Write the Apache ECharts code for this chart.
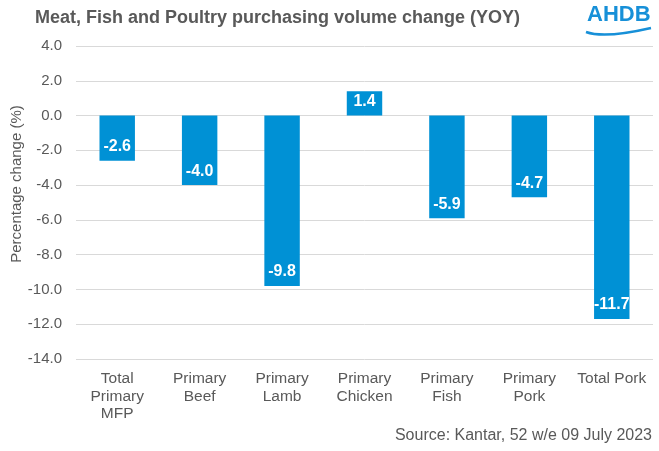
<!DOCTYPE html>
<html>
<head>
<meta charset="utf-8">
<script src="https://cdn.jsdelivr.net/npm/echarts@6/dist/echarts.min.js"></script>
<style>
  html, body { margin: 0; padding: 0; background: #fff; }
  #chart { width: 659px; height: 451px; }
</style>
</head>
<body>
<div id="chart"></div>
<script>
// data
const categories = ['Total\nPrimary\nMFP', 'Primary\nBeef', 'Primary\nLamb', 'Primary\nChicken', 'Primary\nFish', 'Primary\nPork', 'Total Pork'];
const changes = [-2.6, -4.0, -9.8, 1.4, -5.9, -4.7, -11.7];

const textGrey = '#595959';
const barBlue = '#0091D5';

var myChart = echarts.init(document.getElementById('chart'));

myChart.setOption({
    animation: false,
    title: {
        text: 'Meat, Fish and Poultry purchasing volume change (YOY)',
        left: 30,
        top: 4,
        textStyle: {
            fontFamily: 'Arial, Liberation Sans',
            fontSize: 18,
            fontWeight: 'bold',
            color: textGrey
        }
    },
    grid: {
        left: 76,
        right: 6,
        top: 46,
        bottom: 92,
        outerBoundsMode: 'none'
    },
    xAxis: {
        type: 'category',
        data: categories,
        axisLine: { show: false },
        axisTick: { show: false },
        axisLabel: {
            interval: 0,
            margin: 11,
            fontFamily: 'Arial, Liberation Sans',
            fontSize: 15.5,
            lineHeight: 17.5,
            color: textGrey
        }
    },
    yAxis: {
        type: 'value',
        min: -14,
        max: 4,
        interval: 2,
        axisLabel: {
            margin: 14,
            fontFamily: 'Arial, Liberation Sans',
            fontSize: 15,
            color: textGrey,
            formatter: v => v.toFixed(1)
        },
        splitLine: { lineStyle: { color: '#D9D9D9', width: 1 } }
    },
    series: [
        {
            type: 'bar',
            barWidth: '43%',
            data: changes.map(v => ({
                value: v,
                label: v < 0 ? { position: 'insideBottom', distance: 6 } : { position: 'insideTop', distance: 2 }
            })),
            itemStyle: { color: barBlue },
            label: {
                show: true,
                color: '#fff',
                fontFamily: 'Arial, Liberation Sans',
                fontSize: 16,
                fontWeight: 'bold',
                formatter: p => p.value.toFixed(1)
            }
        }
    ],
    graphic: [
        // y axis title
        {
            type: 'text',
            x: 17,
            y: 184,
            rotation: Math.PI / 2,
            style: {
                text: 'Percentage change (%)',
                font: '15px Arial, Liberation Sans',
                fill: textGrey,
                align: 'center',
                verticalAlign: 'middle'
            }
        },
        {
            type: 'text',
            right: 7,
            bottom: 7,
            style: {
                text: 'Source: Kantar, 52 w/e 09 July 2023',
                font: '16px Arial, Liberation Sans',
                fill: textGrey
            }
        },
        // AHDB logo
        {
            type: 'text',
            left: 587,
            top: 4,
            style: {
                text: 'AHDB',
                font: 'bold 22px Arial, Liberation Sans',
                fill: '#1790D8'
            }
        },
        {
            type: 'bezierCurve',
            shape: { x1: 586, y1: 32, cpx1: 600, cpy1: 37, cpx2: 625, cpy2: 34, x2: 651, y2: 28 },
            style: { stroke: '#1790D8', lineWidth: 2.5, fill: null }
        }
    ]
});
</script>
</body>
</html>
